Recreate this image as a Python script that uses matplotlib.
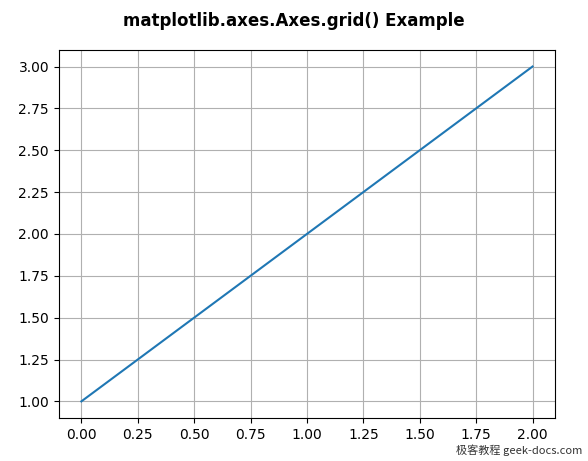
import matplotlib
matplotlib.use("Agg")
import matplotlib.pyplot as plt

x = [0, 1, 2]
y = [1, 2, 3]

fig, ax = plt.subplots(figsize=(5.88, 4.61), dpi=100)
fig.subplots_adjust(left=0.100, right=0.944, top=0.892, bottom=0.093)
ax.plot(x, y)
ax.grid()
fig.suptitle('matplotlib.axes.Axes.grid() Example', fontweight='bold', y=0.975)
fig.text(0.99, 0.01, '极客教程 geek-docs.com', ha='right', va='bottom', fontsize=8,
         family=['Noto Sans CJK SC', 'DejaVu Sans'], color='#333333')
fig.savefig('out.png')
